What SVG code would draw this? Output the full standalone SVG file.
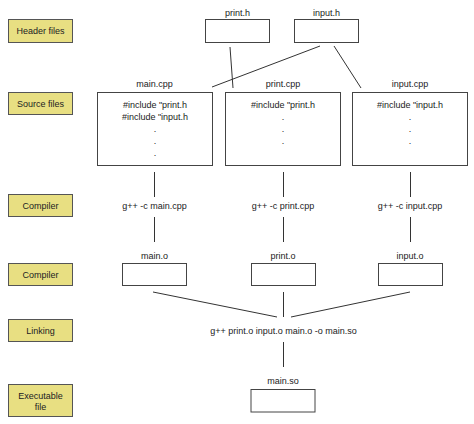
<svg xmlns="http://www.w3.org/2000/svg" width="474" height="424" viewBox="0 0 474 424">
<style>
text{font-family:"Liberation Sans",Arial,sans-serif;font-size:9px;fill:#222;text-anchor:middle}
.stage{fill:#e8df82;stroke:#555;stroke-width:1}
.box{fill:#fff;stroke:#444;stroke-width:1}
.conn line{stroke:#333;stroke-width:1}
</style>
<rect width="474" height="424" fill="#fff"/>
<g id="stage-header"><rect class="stage" x="8.5" y="19.5" width="64" height="23"/><text x="40.5" y="34">Header files</text></g>
<g id="stage-source"><rect class="stage" x="8.5" y="92.5" width="64" height="22"/><text x="40.5" y="106.5">Source files</text></g>
<g id="stage-compiler1"><rect class="stage" x="8.5" y="194.5" width="64" height="22"/><text x="40.5" y="209">Compiler</text></g>
<g id="stage-compiler2"><rect class="stage" x="8.5" y="263.5" width="64" height="22"/><text x="40.5" y="278">Compiler</text></g>
<g id="stage-linking"><rect class="stage" x="8.5" y="319.5" width="64" height="22"/><text x="40.5" y="334">Linking</text></g>
<g id="stage-exec"><rect class="stage" x="8.5" y="384.5" width="64" height="32"/><text x="40.5" y="398.5">Executable</text><text x="40.5" y="410">file</text></g>

<g id="print-h"><text x="237.5" y="15.5">print.h</text><rect class="box" x="205.5" y="19.5" width="64" height="23"/></g>
<g id="input-h"><text x="326.5" y="15.5">input.h</text><rect class="box" x="294.5" y="19.5" width="64" height="23"/></g>

<g id="main-cpp"><text x="154.5" y="87">main.cpp</text><rect class="box" x="97.5" y="92.5" width="115" height="73"/>
<text x="155" y="108">#include "print.h</text><text x="155" y="120">#include "input.h</text>
<text x="155" y="131.5">.</text><text x="155" y="143.5">.</text><text x="155" y="155.5">.</text></g>
<g id="print-cpp"><text x="283" y="87">print.cpp</text><rect class="box" x="225.5" y="92.5" width="115" height="73"/>
<text x="283" y="108">#include "print.h</text>
<text x="283" y="119.5">.</text><text x="283" y="131.5">.</text><text x="283" y="143.5">.</text></g>
<g id="input-cpp"><text x="410" y="87">input.cpp</text><rect class="box" x="352.5" y="92.5" width="115" height="73"/>
<text x="410" y="108">#include "input.h</text>
<text x="410" y="119.5">.</text><text x="410" y="131.5">.</text><text x="410" y="143.5">.</text></g>

<g id="cmd-main"><text x="154.5" y="209">g++ -c main.cpp</text></g>
<g id="cmd-print"><text x="283" y="209">g++ -c print.cpp</text></g>
<g id="cmd-input"><text x="410" y="209">g++ -c input.cpp</text></g>

<g id="main-o"><text x="154.5" y="258.5">main.o</text><rect class="box" x="122.5" y="263.5" width="64" height="22"/></g>
<g id="print-o"><text x="283" y="258.5">print.o</text><rect class="box" x="251.5" y="263.5" width="64" height="22"/></g>
<g id="input-o"><text x="410" y="258.5">input.o</text><rect class="box" x="378.5" y="263.5" width="64" height="22"/></g>

<g id="cmd-link"><text x="283.5" y="333.5">g++ print.o input.o main.o -o main.so</text></g>
<g id="main-so"><text x="283" y="384">main.so</text><rect class="box" x="251" y="389.5" width="64" height="22.5"/></g>

<g class="conn" id="connectors">
<line x1="230" y1="47" x2="233" y2="88"/>
<line x1="320" y1="46" x2="212" y2="87"/>
<line x1="334" y1="46" x2="361" y2="88"/>
<line x1="154.5" y1="172" x2="154.5" y2="197"/>
<line x1="154.5" y1="217" x2="154.5" y2="242"/>
<line x1="283.5" y1="172" x2="283.5" y2="197"/>
<line x1="283.5" y1="217" x2="283.5" y2="242"/>
<line x1="410.5" y1="172" x2="410.5" y2="197"/>
<line x1="410.5" y1="217" x2="410.5" y2="242"/>
<line x1="153" y1="292" x2="277" y2="317"/>
<line x1="283.5" y1="292" x2="283.5" y2="317"/>
<line x1="410" y1="292" x2="291" y2="317"/>
<line x1="283.5" y1="342" x2="283.5" y2="367"/>
</g>
</svg>
